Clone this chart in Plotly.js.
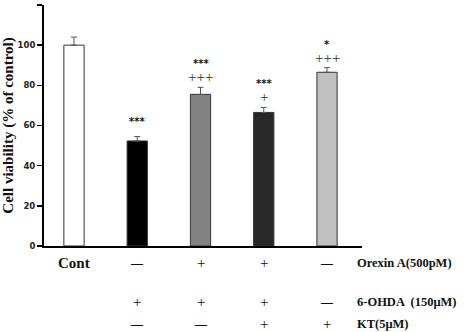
<!DOCTYPE html>
<html><head><meta charset="utf-8">
<script src="https://cdn.plot.ly/plotly-3.0.1.min.js"></script>
<style>html,body{margin:0;padding:0;background:#fff}#c{width:474px;height:332px}</style>
</head><body><div id="c"></div>
<script>
const categories = ["Cont", "6-OHDA", "OxA+6-OHDA", "OxA+6-OHDA+KT", "KT"];
const viability = [100, 52.3, 75.5, 66.5, 86.5];
const errPlus = [4, 2.2, 3.5, 2.5, 2.3];
const barColors = ["#ffffff", "#000000", "#828282", "#282828", "#c0c0c0"];
const starMarks = ["", "***", "***", "***", "*"];
const plusMarks = ["", "", "+++", "+", "+++"];
const rowOrexin = ["Cont", "\u2014", "+", "+", "\u2014"];
const row6OHDA = ["", "+", "+", "+", "\u2014"];
const rowKT = ["", "\u2014", "\u2014", "+", "+"];
const rowNames = ["Orexin A(500pM)", "6-OHDA  (150\u03bcM)", "KT(5\u03bcM)"];
const yTicks = [0, 20, 40, 60, 80, 100, 120];

const trace = {
  type: "bar", x: categories, y: viability, width: 0.32,
  marker: {color: barColors, line: {color: "#333", width: 1}},
  error_y: {type: "data", symmetric: false, array: errPlus, arrayminus: viability.map(() => 0),
            color: "#555", thickness: 1, width: 3},
  hoverinfo: "none"
};

const ann = [];
const serif = "Liberation Serif, Times New Roman, serif";
categories.forEach((c, i) => {
  const top = viability[i] + errPlus[i];
  if (plusMarks[i]) ann.push({x: c, y: top, yref: "y", xref: "x", text: plusMarks[i], showarrow: false,
    yanchor: "bottom", yshift: 0, font: {family: serif, size: 15, color: "#333"}});
  if (starMarks[i]) ann.push({x: c, y: top, yref: "y", xref: "x", text: "<b>" + starMarks[i] + "</b>", showarrow: false,
    yanchor: "bottom", yshift: plusMarks[i] ? 16 : 8, font: {family: "DejaVu Sans, sans-serif", size: 10, color: "#111"}});
});
const rows = [rowOrexin, row6OHDA, rowKT];
const rowY = [263, 302, 324];
const toPaperY = py => 1 - (py - 5) / 241;
rows.forEach((row, r) => {
  row.forEach((t, i) => {
    if (!t) return;
    const isCont = t === "Cont";
    const isDash = t === "\u2014";
    ann.push({x: categories[i], xref: "x", y: toPaperY(rowY[r]), yref: "paper",
      text: isCont ? "<b>Cont</b>" : (isDash ? "<b>" + t + "</b>" : t),
      showarrow: false, yanchor: "middle",
      font: {family: serif, size: isCont ? 15 : (isDash ? 12 : 15), color: "#111"}});
  });
  ann.push({x: (355 - 44) / 318, xref: "paper", xanchor: "left", y: toPaperY(rowY[r]), yref: "paper",
    text: "<b>" + rowNames[r] + "</b>", showarrow: false, yanchor: "middle",
    font: {family: serif, size: 12.5, color: "#111"}});
});

const layout = {
  width: 474, height: 332, margin: {l: 44, r: 112, t: 5, b: 86},
  paper_bgcolor: "#fff", plot_bgcolor: "#fff", showlegend: false,
  xaxis: {type: "category", range: [-0.474, 4.553], showticklabels: false, ticks: "",
          showline: true, linecolor: "#000", linewidth: 2, showgrid: false, zeroline: false},
  yaxis: {range: [0, 120], tickvals: yTicks, ticktext: yTicks.map(v => "<b>" + v + "</b>"),
          ticks: "outside", ticklen: 5, tickwidth: 1.5, tickcolor: "#000",
          showline: true, linecolor: "#000", linewidth: 2, showgrid: false, zeroline: false,
          tickfont: {family: "DejaVu Sans, sans-serif", size: 8.5, color: "#222"},
          title: {text: "<b>Cell viability (% of control)</b>", standoff: 4,
                  font: {family: serif, size: 15, color: "#111"}}},
  annotations: ann
};
Plotly.newPlot("c", [trace], layout, {staticPlot: true});
</script></body></html>
